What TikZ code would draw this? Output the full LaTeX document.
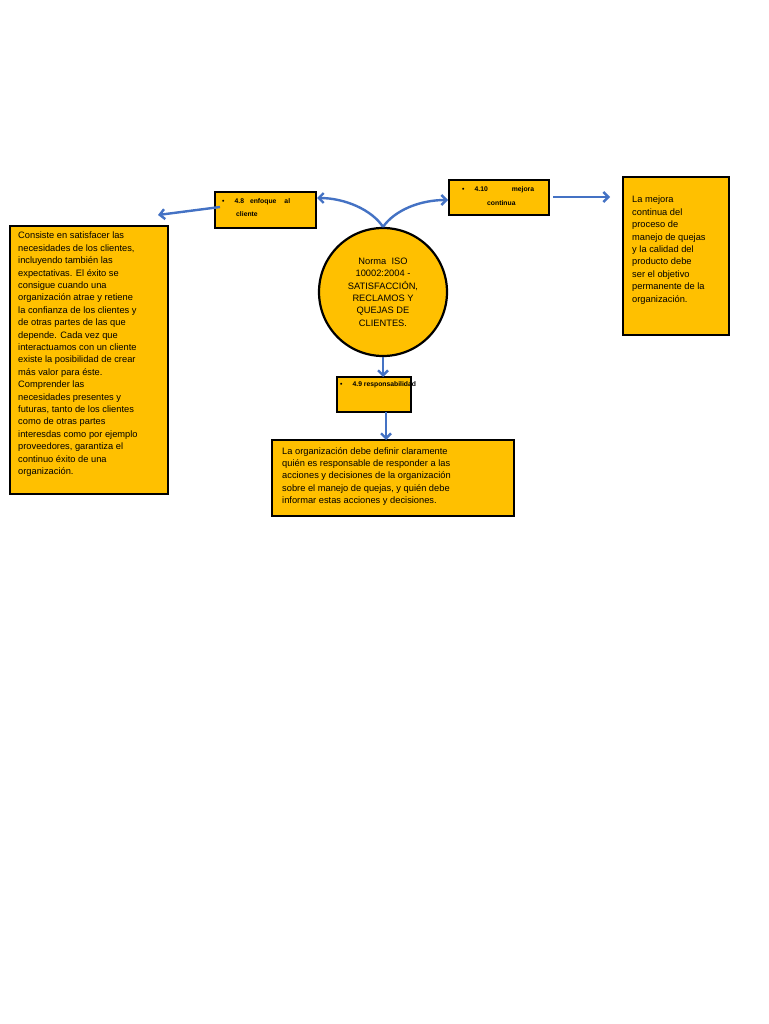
\documentclass[tikz,border=0pt]{standalone}
\usepackage{fontspec}
\usetikzlibrary{arrows.meta}
\setmainfont{Liberation Sans}
\definecolor{boxy}{HTML}{FFC000}
\definecolor{arr}{HTML}{4472C4}
\begin{document}
\begin{tikzpicture}[x=1pt,y=-1pt,
  bx/.style={draw=black,line width=2.2pt,fill=boxy,inner sep=0pt},
  ar/.style={draw=arr,line width=2.4pt,-{Straight Barb[length=5pt,width=10pt]}},
  txt/.style={font=\fontsize{9.3}{12.4}\selectfont,align=left,anchor=north west,inner sep=0pt},
  lbl/.style={font=\bfseries\fontsize{6.8}{12}\selectfont,anchor=north west,inner sep=0pt}]
\useasboundingbox (0,0) rectangle (768,1024);
\fill[white] (0,0) rectangle (768,1024);
% boxes
\draw[bx] (215,192) rectangle (316,228) coordinate (b48);
\coordinate (b48l) at (220,207); \coordinate (b48r) at (317,198);
\node[lbl] (t48) at (222,198) {•\hspace{10pt}4.8\hspace{6pt}enfoque\hspace{8pt}al};
\node[lbl] (t48b) at (236,211) {cliente};
\draw[bx] (449,180) rectangle (549,215);
\coordinate (b410l) at (448,200); \coordinate (b410r) at (553,197);
\node[lbl] (t410) at (462,186) {•\hspace{10pt}4.10\hspace{24pt}mejora};
\node[lbl] (t410b) at (487,200) {continua};
\draw[bx] (623,177) rectangle (729,335);
\node[txt] (tr) at (632,196) {La mejora\\continua del\\proceso de\\manejo de quejas\\y la calidad del\\producto debe\\ser el objetivo\\permanente de la\\organización.};
\draw[bx] (10,226) rectangle (168,494);
\node[txt] (tl) at (18,232) {Consiste en satisfacer las\\necesidades de los clientes,\\incluyendo también las\\expectativas. El éxito se\\consigue cuando una\\organización atrae y retiene\\la confianza de los clientes y\\de otras partes de las que\\depende. Cada vez que\\interactuamos con un cliente\\existe la posibilidad de crear\\más valor para éste.\\Comprender las\\necesidades presentes y\\futuras, tanto de los clientes\\como de otras partes\\interesdas como por ejemplo\\proveedores, garantiza el\\continuo éxito de una\\organización.};
\node[bx,circle,minimum size=128pt,align=center,font=\fontsize{9.3}{12.4}\selectfont] (c) at (383,292) {Norma\ \ ISO\\10002:2004 -\\SATISFACCIÓN,\\RECLAMOS Y\\QUEJAS DE\\CLIENTES.};
\draw[bx] (337,377) rectangle (411,412);
\coordinate (b49t) at (386,377); \coordinate (b49b) at (386,412);
\node[lbl] (t49) at (340,381) {•\hspace{10pt}4.9 responsabilidad};
\draw[bx] (272,440) rectangle (514,516);
\coordinate (bbt) at (386,440);
\node[txt] (tb) at (282,447) {La organización debe definir claramente\\quién es responsable de responder a las\\acciones y decisiones de la organización\\sobre el manejo de quejas, y quién debe\\informar estas acciones y decisiones.};
% arrows
\draw[ar] (c.north) .. controls (372,210) and (345,198) .. (b48r);
\draw[ar] (c.north) .. controls (395,210) and (420,200) .. (b410l);
\draw[ar] (b48l) -- (158,215);
\draw[ar] (b410r) -- (610,197);
\draw[ar] (c.south) -- (c.south |- b49t);
\draw[ar] (b49b) -- (bbt);
\end{tikzpicture}
\end{document}
